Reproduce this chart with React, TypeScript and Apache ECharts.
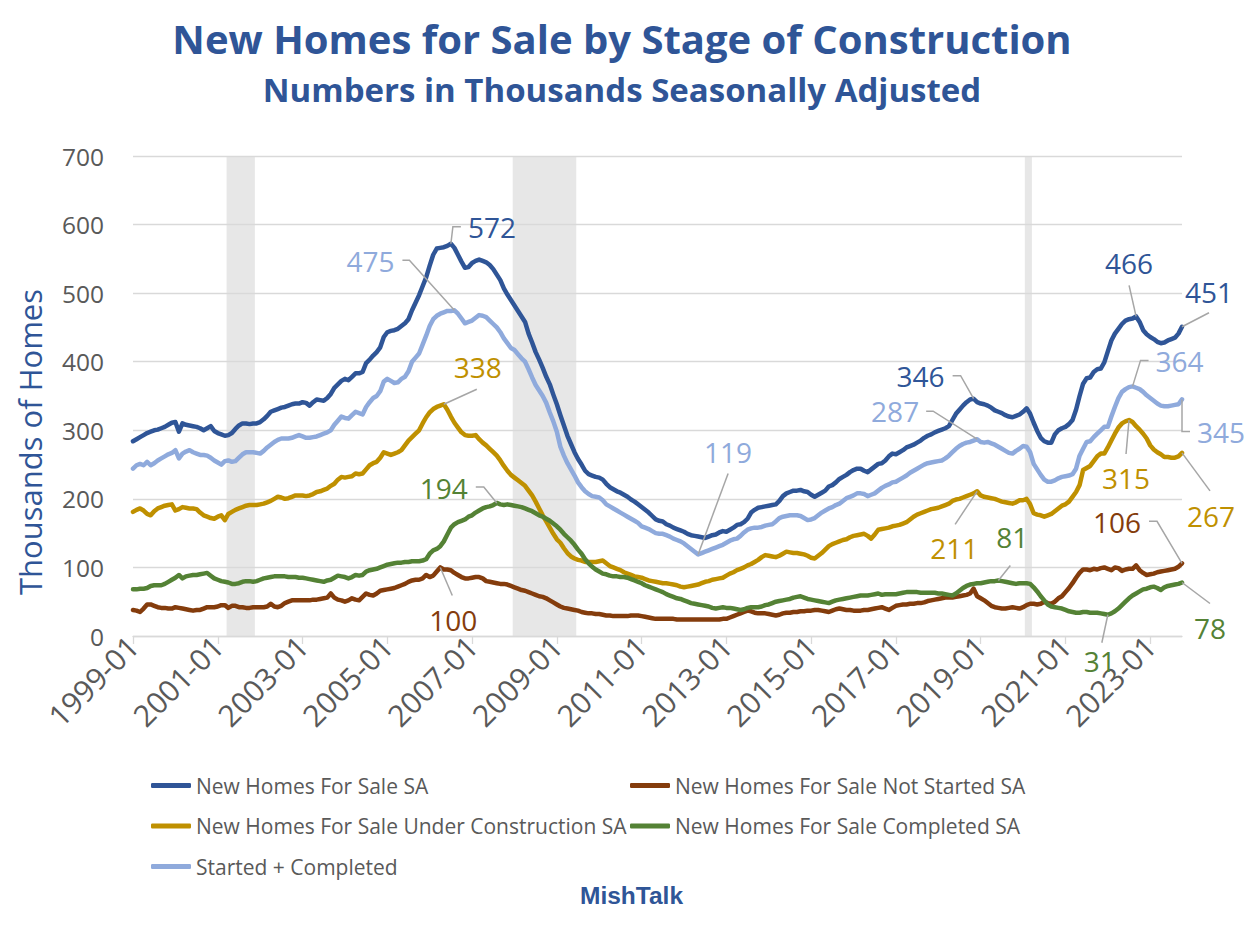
import React, { useEffect, useRef } from "react";
import * as echarts from "echarts";

// Monthly categories, 1999-01 through 2023-10
const FIRST_YEAR = 1999;
const MONTH_COUNT = 298;
const MONTHS: string[] = Array.from({ length: MONTH_COUNT }, (_, k) => {
  const y = FIRST_YEAR + Math.floor(k / 12);
  const m = (k % 12) + 1;
  return `${y}-${m < 10 ? "0" + m : m}`;
});

const Y_TICKS = [0, 100, 200, 300, 400, 500, 600, 700];

// NBER recession months (shaded bands)
const RECESSIONS: [string, string][] = [
  ["2001-04", "2001-11"],
  ["2008-01", "2009-06"],
  ["2020-02", "2020-03"],
];

// New homes for sale, thousands, SA
const TOTAL = [
  284, 287, 290, 293, 296, 298, 300, 301, 303, 305, 308, 311,
  312, 298, 310, 308, 307, 306, 305, 303, 300, 303, 306, 299,
  296, 294, 292, 293, 296, 302, 307, 310, 310, 309, 310, 310,
  312, 316, 321, 327, 329, 331, 333, 334, 336, 338, 339, 339,
  341, 340, 336, 341, 345, 344, 343, 347, 353, 362, 367, 372,
  375, 373, 378, 383, 383, 385, 398, 403, 409, 414, 421, 436,
  443, 445, 446, 448, 452, 456, 462, 475, 486, 497, 510, 523,
  540, 556, 565, 566, 567, 569, 572, 566, 556, 546, 537, 538,
  544, 547, 549, 547, 545, 541, 535, 527, 519, 507, 498, 490,
  482, 474, 466, 458, 441, 428, 414, 403, 391, 378, 367, 352,
  338, 322, 307, 292, 280, 268, 258, 250, 241, 236, 234, 232,
  231, 228, 222, 217, 214, 211, 209, 206, 203, 199, 196, 192,
  188, 184, 180, 175, 170, 168, 167, 163, 161, 158, 156, 154,
  152, 149, 147, 146, 145, 144, 143, 145, 147, 148, 151, 153,
  152, 155, 158, 162, 163, 166, 171, 180, 184, 187, 188, 189,
  190, 191, 192, 197, 204, 208, 210, 212, 212, 213, 211, 210,
  206, 203, 206, 209, 212, 218, 220, 224, 229, 232, 235, 239,
  242, 244, 244, 241, 239, 243, 247, 251, 252, 256, 262, 266,
  265, 268, 271, 275, 277, 279, 282, 285, 289, 292, 294, 297,
  299, 301, 303, 306, 315, 324, 330, 336, 341, 345, 346, 341,
  339, 338, 336, 333, 329, 327, 325, 322, 320, 319, 321, 323,
  327, 332, 324, 311, 299, 289, 284, 282, 282, 294, 300, 303,
  305, 309, 315, 330, 350, 368, 376, 377, 385, 389, 390, 399,
  415, 431, 441, 448, 455, 460, 462, 463, 466, 458, 446, 440,
  436, 433, 429, 427, 428, 431, 433, 435, 441, 451,
];

// Not started
const NOT_STARTED = [
  38, 37, 35, 40, 46, 46, 44, 42, 41, 41, 40, 40,
  42, 41, 40, 39, 38, 37, 38, 38, 40, 42, 42, 42,
  43, 45, 45, 41, 44, 44, 42, 42, 41, 41, 42, 42,
  42, 42, 43, 47, 43, 42, 44, 48, 50, 52, 52, 52,
  52, 52, 52, 53, 53, 54, 55, 56, 62, 56, 53, 52,
  50, 52, 55, 53, 52, 57, 62, 60, 59, 62, 66, 67,
  68, 69, 70, 72, 74, 76, 79, 81, 82, 82, 84, 89,
  86, 88, 94, 100, 97, 97, 96, 92, 89, 86, 84, 84,
  85, 86, 86, 84, 80, 79, 78, 77, 76, 76, 75, 73,
  71, 69, 67, 66, 64, 62, 60, 58, 57, 55, 52, 49,
  46, 43, 41, 40, 39, 38, 37, 35, 34, 33, 33, 32,
  32, 31, 30, 30, 29, 29, 29, 29, 29, 30, 30, 30,
  29, 28, 27, 26, 25, 25, 25, 25, 25, 25, 24, 24,
  24, 24, 24, 24, 24, 24, 24, 24, 24, 24, 24, 25,
  25, 27, 29, 31, 33, 35, 37, 36, 34, 33, 33, 33,
  32, 31, 30, 31, 33, 34, 34, 35, 35, 36, 36, 37,
  37, 38, 38, 37, 36, 35, 37, 39, 40, 39, 38, 38,
  37, 37, 37, 38, 38, 39, 40, 41, 42, 40, 38, 41,
  44, 45, 46, 46, 47, 47, 48, 48, 49, 51, 52, 53,
  54, 55, 56, 56, 56, 57, 58, 59, 60, 62, 69, 58,
  55, 52, 48, 44, 42, 41, 40, 40, 41, 42, 41, 40,
  42, 45, 47, 47, 46, 47, 50, 48, 47, 50, 55, 58,
  64, 70, 77, 85, 92, 97, 97, 96, 98, 97, 99, 100,
  98, 96, 100, 99, 95, 97, 98, 98, 103, 96, 92, 89,
  90, 91, 93, 94, 95, 96, 97, 98, 101, 106,
];

// Under construction
const UNDER_CONSTRUCTION = [
  181, 184, 186, 183, 178, 176, 182, 186, 188, 190, 191, 192,
  183, 185, 188, 187, 186, 186, 185, 180, 176, 174, 172, 171,
  174, 176, 169, 178, 181, 184, 186, 188, 190, 191, 191, 191,
  192, 193, 195, 197, 200, 203, 202, 200, 201, 203, 205, 205,
  205, 204, 205, 207, 210, 211, 213, 215, 219, 222, 228, 232,
  231, 232, 233, 237, 236, 237, 243, 249, 252, 254, 260, 268,
  266, 264, 266, 268, 271, 278, 285, 290, 295, 300, 310, 319,
  326, 331, 334, 336, 338, 330, 320, 311, 304, 297, 293, 292,
  292, 293, 287, 282, 278, 273, 268, 263, 256, 248, 241, 235,
  231, 227, 223, 219, 212, 205, 196, 186, 176, 167, 158, 149,
  141, 136, 128, 121, 116, 113, 111, 110, 108, 108, 108, 108,
  109, 110, 106, 102, 100, 98, 96, 93, 91, 89, 87, 86,
  85, 83, 81, 80, 79, 78, 77, 77, 76, 75, 74, 72,
  71, 72, 73, 74, 75, 77, 79, 80, 82, 83, 84, 85,
  88, 91, 93, 96, 98, 100, 103, 105, 108, 111, 115, 118,
  117, 116, 115, 117, 120, 123, 122, 121, 121, 120, 119, 117,
  114, 113, 117, 121, 126, 131, 134, 136, 138, 140, 141, 144,
  146, 147, 148, 149, 146, 142, 148, 155, 156, 157, 158, 160,
  161, 162, 164, 166, 170, 174, 177, 179, 181, 183, 185, 186,
  187, 189, 191, 193, 197, 199, 200, 202, 204, 206, 208, 211,
  205, 203, 202, 201, 200, 198, 196, 195, 194, 193, 195, 198,
  198, 200, 192, 179, 177, 176, 174, 176, 178, 182, 186, 190,
  192, 196, 203, 210, 220, 242, 245, 248, 255, 262, 266, 266,
  275, 285, 295, 304, 310, 313, 315, 312, 306, 301, 295, 288,
  278, 272, 268, 265, 261, 261, 260, 260, 262, 267,
];

// Completed
const COMPLETED = [
  68, 68, 69, 69, 70, 73, 74, 74, 74, 76, 79, 82,
  85, 89, 84, 87, 88, 89, 89, 90, 91, 92, 88, 84,
  82, 80, 79, 78, 76, 76, 77, 79, 80, 80, 79, 80,
  82, 84, 85, 86, 87, 87, 87, 87, 86, 86, 86, 85,
  85, 84, 83, 82, 81, 80, 79, 81, 82, 85, 88, 87,
  86, 84, 86, 89, 88, 89, 94, 96, 97, 98, 100, 102,
  104, 105, 106, 107, 107, 108, 108, 109, 109, 109, 110, 112,
  120, 125, 127, 131, 138, 148, 158, 163, 166, 168, 170, 174,
  176, 180, 183, 186, 188, 189, 191, 194, 192, 191, 192, 191,
  190, 189, 188, 186, 184, 182, 179, 176, 174, 171, 168, 164,
  160, 155, 149, 144, 139, 133, 126, 120, 112, 106, 101, 97,
  94, 91, 90, 88, 87, 87, 86, 86, 85, 83, 81, 79,
  77, 74, 72, 70, 68, 66, 64, 61, 59, 57, 55, 54,
  52, 50, 48, 47, 46, 45, 44, 43, 41, 40, 41, 42,
  41, 41, 40, 39, 38, 39, 41, 42, 42, 42, 43, 45,
  46, 48, 50, 51, 52, 53, 54, 56, 57, 58, 56, 54,
  53, 52, 51, 50, 49, 48, 50, 52, 53, 54, 55, 56,
  57, 58, 59, 59, 59, 60, 61, 62, 60, 61, 61, 61,
  61, 62, 63, 64, 64, 64, 64, 63, 63, 63, 63, 63,
  62, 62, 61, 60, 59, 62, 66, 70, 73, 75, 76, 77,
  77, 78, 79, 80, 80, 81, 80, 79, 78, 77, 76, 77,
  77, 77, 76, 71, 65, 58, 52, 46, 43, 42, 41, 40,
  38, 36, 35, 34, 34, 35, 35, 34, 34, 34, 33, 32,
  31, 33, 36, 40, 45, 50, 55, 59, 62, 65, 68, 69,
  71, 72, 70, 67, 71, 73, 74, 75, 76, 78,
];

// Started + Completed
const STARTED_COMPLETED = [
  244, 249, 251, 249, 254, 249, 252, 256, 259, 262, 265, 267,
  271, 259, 266, 269, 271, 268, 266, 264, 264, 263, 260, 256,
  253, 250, 255, 256, 254, 255, 260, 265, 268, 268, 268, 267,
  266, 270, 275, 279, 283, 286, 288, 288, 288, 289, 291, 293,
  291, 289, 289, 290, 291, 293, 295, 297, 300, 308, 314, 320,
  318, 317, 322, 327, 325, 323, 334, 341, 347, 350, 357, 371,
  375, 372, 369, 370, 375, 378, 386, 400, 406, 412, 425, 438,
  452, 462, 467, 470, 472, 474, 474, 475, 470, 463, 456, 458,
  460, 464, 468, 467, 465, 460, 455, 450, 443, 434, 427, 420,
  417, 411, 405, 400, 389, 377, 366, 358, 350, 340, 326, 313,
  298, 276, 263, 252, 243, 234, 224, 217, 211, 207, 204, 203,
  202, 198, 192, 189, 186, 183, 180, 177, 174, 171, 168, 165,
  160, 158, 156, 153, 150, 149, 149, 147, 145, 142, 140, 138,
  135, 131, 127, 123, 119, 121, 123, 125, 127, 129, 131, 133,
  136, 139, 141, 142, 146, 151, 155, 157, 158, 158, 159, 161,
  162, 163, 167, 172, 174, 175, 176, 176, 176, 175, 172, 169,
  170, 172, 176, 180, 183, 186, 188, 191, 193, 197, 201, 203,
  205, 208, 208, 207, 204, 206, 208, 212, 216, 219, 221, 224,
  225, 228, 231, 234, 238, 241, 244, 247, 250, 252, 253, 254,
  255, 256, 259, 263, 268, 273, 277, 280, 282, 283, 285, 287,
  283, 282, 283, 281, 279, 276, 273, 270, 267, 266, 270, 273,
  277, 276, 268, 251, 243, 235, 228, 225, 225, 227, 230, 232,
  233, 234, 236, 244, 263, 273, 283, 284, 290, 295, 300, 305,
  305, 320, 334, 347, 356, 360, 363, 364, 362, 360, 356, 351,
  347, 343, 339, 336, 335, 335, 336, 337, 338, 345,
];

const FONT = "'Open Sans', 'Noto Sans', sans-serif";
const TITLE_BLUE = "#2F5597";
const GRID_COLOR = "#D9D9D9";
const TEXT_GRAY = "#595959";
const SHADE = "#E7E7E7";

type Key = "total" | "ns" | "uc" | "c" | "sc";

const SERIES_DEF: { key: Key; name: string; color: string; data: number[] }[] = [
  { key: "total", name: "New Homes For Sale SA", color: "#2F5597", data: TOTAL },
  { key: "ns", name: "New Homes For Sale Not Started SA", color: "#843C0C", data: NOT_STARTED },
  { key: "uc", name: "New Homes For Sale Under Construction SA", color: "#BF9000", data: UNDER_CONSTRUCTION },
  { key: "c", name: "New Homes For Sale Completed SA", color: "#548235", data: COMPLETED },
  { key: "sc", name: "Started + Completed", color: "#8FAADC", data: STARTED_COMPLETED },
];

// Callouts: which point, leader-line bends and label anchor (pixel offsets from the point)
const CALLOUTS: { key: Key; index: number; leader: number[][]; label: number[]; align: string }[] = [
  { key: "total", index: 90, leader: [[2, -17], [10, -17]], label: [17, -17], align: "left" },
  { key: "sc", index: 91, leader: [[-45, -50], [-52, -50]], label: [-60, -49], align: "right" },
  { key: "uc", index: 88, leader: [[33, -15]], label: [34, -37], align: "center" },
  { key: "c", index: 103, leader: [[-13, -16], [-21, -16]], label: [-29, -15], align: "right" },
  { key: "ns", index: 87, leader: [[12, 28]], label: [13, 53], align: "center" },
  { key: "sc", index: 160, leader: [[30, -81]], label: [30, -102], align: "center" },
  { key: "total", index: 238, leader: [[-13, -23], [-21, -23]], label: [-29, -23], align: "right" },
  { key: "sc", index: 239, leader: [[-44, -28], [-51, -28]], label: [-58, -28], align: "right" },
  { key: "uc", index: 239, leader: [[-22, 33]], label: [-23, 57], align: "center" },
  { key: "c", index: 245, leader: [[12, -15]], label: [14, -43], align: "center" },
  { key: "total", index: 284, leader: [[-7, -31]], label: [-7, -53], align: "center" },
  { key: "total", index: 297, leader: [[27, -14]], label: [27, -35], align: "center" },
  { key: "sc", index: 283, leader: [[8, -26], [16, -26]], label: [23, -25], align: "left" },
  { key: "sc", index: 297, leader: [[0, 32], [8, 32]], label: [15, 33], align: "left" },
  { key: "uc", index: 282, leader: [[-3, 34]], label: [-3, 58], align: "center" },
  { key: "uc", index: 297, leader: [[28, 38]], label: [29, 63], align: "center" },
  { key: "ns", index: 297, leader: [[-25, -42], [-33, -42]], label: [-41, -41], align: "right" },
  { key: "c", index: 297, leader: [[28, 21]], label: [28, 45], align: "center" },
  { key: "c", index: 276, leader: [[-6, 28]], label: [-8, 46], align: "center" },
];

export default function App() {
  const ref = useRef<HTMLDivElement>(null);

  useEffect(() => {
    if (!ref.current) return;
    const chart = echarts.init(ref.current, null, { renderer: "svg" });
    const yMin = Y_TICKS[0];
    const yMax = Y_TICKS[Y_TICKS.length - 1];

    const legendText = { fontSize: 21, lineHeight: 21, color: TEXT_GRAY, fontFamily: FONT };
    const legendBase = {
      orient: "vertical",
      top: 770,
      itemGap: 19.5,
      itemWidth: 40,
      itemHeight: 5,
      icon: "roundRect",
      selectedMode: false,
      textStyle: legendText,
    };

    const option: any = {
      animation: false,
      backgroundColor: "#ffffff",
      title: [
        {
          text: "New Homes for Sale by Stage of Construction",
          left: "center",
          top: 13,
          textStyle: { fontSize: 40, lineHeight: 40, fontWeight: "bold", color: TITLE_BLUE, fontFamily: FONT },
        },
        {
          text: "Numbers in Thousands Seasonally Adjusted",
          left: "center",
          top: 68,
          textStyle: { fontSize: 33, lineHeight: 33, fontWeight: "bold", color: TITLE_BLUE, fontFamily: FONT },
        },
        {
          text: "MishTalk",
          left: 575,
          top: 877,
          textStyle: {
            fontSize: 24.5,
            lineHeight: 26,
            fontWeight: "bold",
            color: TITLE_BLUE,
            fontFamily: "'Liberation Sans', Arial, sans-serif",
          },
        },
      ],
      legend: [
        { ...legendBase, left: 146, data: [SERIES_DEF[0].name, SERIES_DEF[2].name, SERIES_DEF[4].name] },
        { ...legendBase, left: 625, data: [SERIES_DEF[1].name, SERIES_DEF[3].name] },
      ],
      grid: { left: 133, right: 62, top: 156, bottom: 308, containLabel: false },
      xAxis: {
        type: "category",
        data: MONTHS,
        boundaryGap: false,
        axisLine: { show: true, lineStyle: { color: GRID_COLOR, width: 1.3 } },
        axisTick: { show: true, interval: 23, length: 8, lineStyle: { color: GRID_COLOR, width: 1.3 } },
        axisLabel: {
          interval: 23,
          rotate: 45,
          margin: 5,
          color: TEXT_GRAY,
          fontSize: 30,
          fontFamily: FONT,
        },
        splitLine: { show: false },
      },
      yAxis: {
        type: "value",
        min: yMin,
        max: yMax,
        interval: Y_TICKS[1] - Y_TICKS[0],
        axisLine: { show: false },
        axisTick: { show: false },
        axisLabel: { margin: 29, color: TEXT_GRAY, fontSize: 24.5, fontFamily: FONT },
        splitLine: { show: true, lineStyle: { color: GRID_COLOR, width: 1.3 } },
      },
      series: [
        {
          name: "Recession",
          type: "custom",
          silent: true,
          z: -1,
          encode: { x: [0, 1], y: 2 },
          data: RECESSIONS.map(([a, b]) => [MONTHS.indexOf(a), MONTHS.indexOf(b), yMin]),
          renderItem: (_params: any, api: any) => {
            const lo = api.coord([api.value(0), yMin]);
            const hi = api.coord([api.value(1), yMax]);
            const band = api.size([1, 0])[0];
            return {
              type: "rect",
              shape: { x: lo[0] - band / 2, y: hi[1], width: hi[0] - lo[0] + band, height: lo[1] - hi[1] },
              style: { fill: SHADE },
            };
          },
        },
        ...SERIES_DEF.map((s) => ({
          name: s.name,
          type: "line",
          data: s.data,
          showSymbol: false,
          symbol: "none",
          color: s.color,
          lineStyle: { color: s.color, width: 4.5, cap: "round", join: "round" },
          z: 3,
        })),
      ],
    };
    chart.setOption(option);

    const graphics: any[] = [
      {
        type: "text",
        x: 30,
        y: 442,
        rotation: Math.PI / 2,
        style: {
          text: "Thousands of Homes",
          fill: TITLE_BLUE,
          fontSize: 31,
          fontFamily: FONT,
          align: "center",
          verticalAlign: "middle",
        },
        silent: true,
      },
    ];
    CALLOUTS.forEach((c) => {
      const def = SERIES_DEF.find((s) => s.key === c.key)!;
      const value = def.data[c.index];
      const [px, py] = chart.convertToPixel({ xAxisIndex: 0, yAxisIndex: 0 }, [c.index, value]) as number[];
      const pts = [[px, py], ...c.leader.map(([dx, dy]) => [px + dx, py + dy])];
      graphics.push({
        type: "polyline",
        shape: { points: pts },
        style: { stroke: "#A6A6A6", lineWidth: 1.5, fill: null },
        silent: true,
        z: 50,
      });
      graphics.push({
        type: "text",
        x: px + c.label[0],
        y: py + c.label[1],
        style: {
          text: String(value),
          fill: def.color,
          fontSize: 28,
          fontFamily: FONT,
          align: c.align,
          verticalAlign: "middle",
        },
        silent: true,
        z: 51,
      });
    });
    chart.setOption({ graphic: graphics });

    return () => chart.dispose();
  }, []);

  return (
    <div
      ref={ref}
      style={{ position: "fixed", left: 0, top: 0, width: 1244, height: 944, background: "#fff" }}
    />
  );
}
